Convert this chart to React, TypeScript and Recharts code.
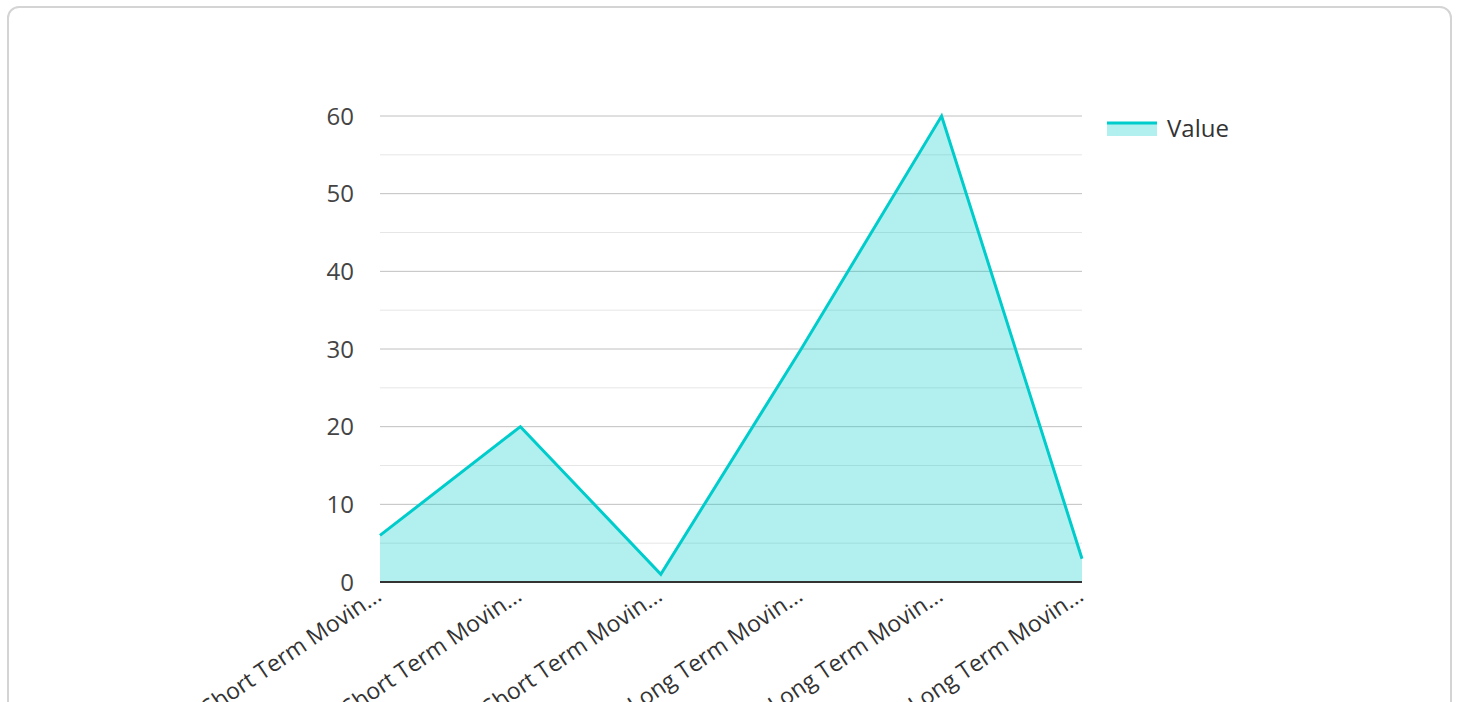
import React from "react";
import { AreaChart, Area, XAxis, YAxis, CartesianGrid, Legend, ReferenceLine } from "recharts";

const categories = [
  "Short Term Movin...",
  "Short Term Movin...",
  "Short Term Movin...",
  "Long Term Movin...",
  "Long Term Movin...",
  "Long Term Movin...",
];
const values = [6, 20, 1, 30, 60, 3];
const majorTicks = [0, 10, 20, 30, 40, 50, 60];
const minorTicks = [5, 15, 25, 35, 45, 55];
const seriesName = "Value";

const data = categories.map((c, i) => ({ idx: i, name: c, value: values[i] }));

const FONT = "'Open Sans', 'Noto Sans', sans-serif";
const LINE = "#00cccc";

const XTick = (props: any) => {
  const { x, y, payload } = props;
  const ax = x + 3;
  const ay = y + 9;
  return (
    <text
      x={ax}
      y={ay}
      textAnchor="end"
      transform={`rotate(-34, ${ax}, ${ay})`}
      fill="#333"
      fontSize={23}
      fontFamily={FONT}
    >
      {categories[payload.value]}
    </text>
  );
};

const LegendContent = () => (
  <div style={{ display: "flex", alignItems: "center", fontFamily: FONT, fontSize: 24, color: "#333" }}>
    <svg width={50} height={16} style={{ marginRight: 10 }}>
      <rect x={0} y={2} width={50} height={14} fill={LINE} fillOpacity={0.3} />
      <line x1={0} x2={50} y1={3} y2={3} stroke={LINE} strokeWidth={3} />
    </svg>
    <span>{seriesName}</span>
  </div>
);

export default function App() {
  return (
    <div style={{ position: "absolute", left: 0, top: 0, width: 1458, height: 702, overflow: "hidden", background: "#fff" }}>
      <div
        style={{
          position: "absolute",
          left: 7,
          top: 6,
          width: 1441,
          height: 720,
          border: "2px solid #d4d4d4",
          borderRadius: 12,
        }}
      />
      <div style={{ position: "absolute", left: 0, top: 0 }}>
        <AreaChart
          width={1458}
          height={702}
          data={data}
          margin={{ top: 116, right: 176, left: 320, bottom: 60 }}
        >
          <CartesianGrid yAxisId="main" vertical={false} stroke="#c0c0c0" strokeWidth={1} />
          {minorTicks.map((v) => (
            <ReferenceLine
              key={v}
              yAxisId="main"
              y={v}
              stroke="#e6e6e6"
              strokeWidth={1}
              {...({ zIndex: -50 } as any)}
            />
          ))}
          <XAxis
            dataKey="idx"
            type="category"
            tick={<XTick />}
            tickLine={false}
            axisLine={{ stroke: "#333", strokeWidth: 2 }}
            height={60}
            interval={0}
          />
          <YAxis
            yAxisId="main"
            domain={[0, 60]}
            ticks={majorTicks}
            axisLine={false}
            tickLine={false}
            tickSize={0}
            tickMargin={26}
            width={60}
            tick={{ fill: "#444", fontSize: 24, fontFamily: FONT }}
          />
          <Area
            yAxisId="main"
            type="linear"
            dataKey="value"
            name={seriesName}
            stroke={LINE}
            strokeWidth={3}
            fill={LINE}
            fillOpacity={0.3}
            dot={false}
            activeDot={false}
            isAnimationActive={false}
          />
          <Legend
            layout="vertical"
            align="right"
            verticalAlign="top"
            content={<LegendContent />}
            wrapperStyle={{ position: "absolute", left: 1107, top: 111, width: 200 }}
          />
        </AreaChart>
      </div>
    </div>
  );
}
